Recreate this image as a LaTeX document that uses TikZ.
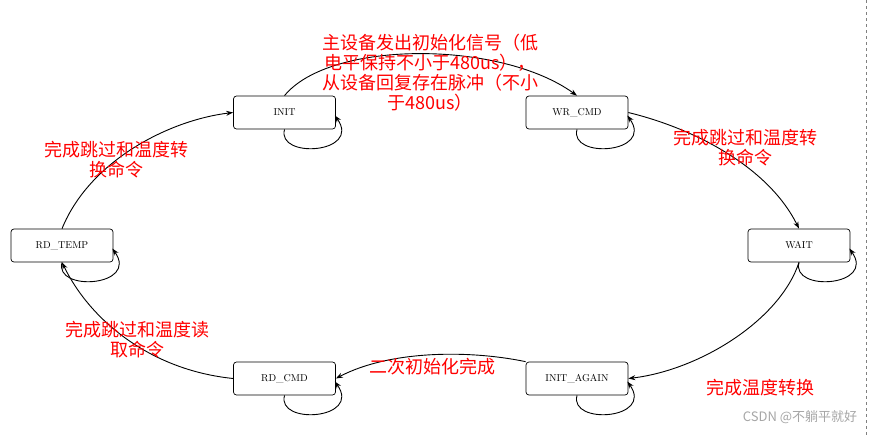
\documentclass[tikz,border=0pt]{standalone}
\usepackage{fontspec}
\newfontfamily\cjk{Noto Sans CJK SC}
\usetikzlibrary{arrows.meta}
\begin{document}
\begin{tikzpicture}[x=1pt,y=-1pt,
  st/.style={draw,line width=0.7pt,rounded corners=3pt,minimum width=102pt,minimum height=33pt,font=\fontsize{10}{12}\selectfont\rmfamily,inner sep=0pt},
  ar/.style={-{Stealth[length=7pt,width=5pt]},line width=0.9pt},
  lb/.style={text=red,font=\cjk\fontsize{18}{20}\selectfont,align=center}]
\useasboundingbox (0,0) rectangle (876,437);
\node[st] (init) at (284.5,112.5) {INIT};
\node[st] (wr) at (577,112.5) {WR\_CMD};
\node[st] (wait) at (799,245.5) {WAIT};
\node[st] (ia) at (577,378.5) {INIT\_AGAIN};
\node[st] (rc) at (284.5,378.5) {RD\_CMD};
\node[st] (rt) at (62,245.5) {RD\_TEMP};
\draw[ar] (init.north) .. controls (330,40) and (500,40) .. (wr.north);
\draw[ar] (wr.east) .. controls (700,130) and (770,170) .. (wait.north);
\draw[ar] (wait.south) .. controls (780,320) and (700,370) .. (ia.east);
\draw[ar] (ia.north west) .. controls (470,350) and (390,350) .. (rc.east);
\draw[ar] (rc.west) .. controls (150,370) and (90,320) .. (rt.south);
\draw[ar] (rt.north) .. controls (90,160) and (170,120) .. (init.west);
\foreach \n in {init,wr,wait,ia,rc,rt}{
  \coordinate (a\n) at (\n.south);
  \coordinate (b\n) at ([yshift=-3pt]\n.east);
  \draw[ar] (a\n) .. controls ([xshift=-8pt,yshift=-30pt]a\n) and ([xshift=26pt,yshift=-38pt]b\n) .. ([xshift=-1pt]b\n);
}
\draw[dashed,gray] (866,0) -- (866,437);
\node[lb] (t1) at (430,73) {主设备发出初始化信号（低\\电平保持不小于480us），\\从设备回复存在脉冲（不小\\于480us）};
\node[lb] (t2) at (116,160) {完成跳过和温度转\\换命令};
\node[lb] (t3) at (745,148) {完成跳过和温度转\\换命令};
\node[lb] (t4) at (760,388) {完成温度转换};
\node[lb] (t5) at (432,367) {二次初始化完成};
\node[lb] (t6) at (137,340) {完成跳过和温度读\\取命令};
\node[text=gray!70,font=\cjk\fontsize{13}{15}\selectfont] (w) at (800,417) {CSDN @不躺平就好};
\end{tikzpicture}
\end{document}
